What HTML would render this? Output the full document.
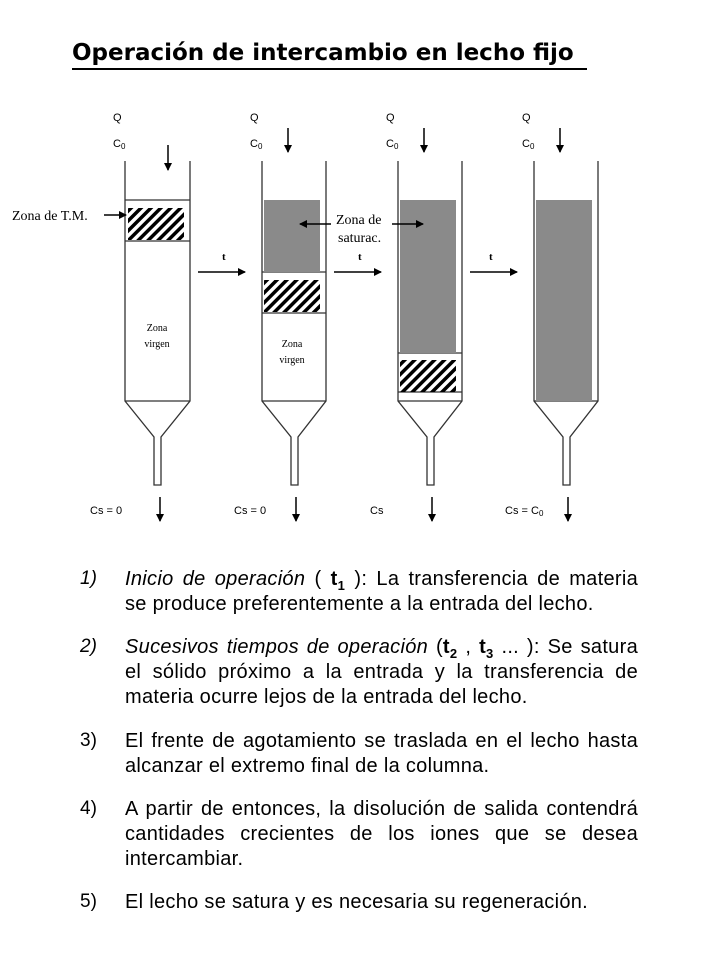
<!DOCTYPE html>
<html><head><meta charset="utf-8"><style>
body{margin:0;width:720px;height:960px;background:#fff;position:relative;overflow:hidden;font-family:"Liberation Sans",sans-serif}
.t{position:absolute;left:72px;top:38px;font-family:"DejaVu Sans",sans-serif;font-size:23px;font-weight:bold;color:#000;border-bottom:2px solid #000;line-height:30px;width:515px;white-space:nowrap}
.n{position:absolute;left:80px;font-size:19px}
.l{position:absolute;left:125px;width:513px;font-size:20px;letter-spacing:0.3px;line-height:22px;white-space:nowrap;text-align:justify;text-align-last:justify}
.l.e{text-align-last:left}
</style></head><body>
<div class="t">Operación de intercambio en lecho fijo</div>
<svg width="720" height="540" style="position:absolute;left:0;top:0" font-family="Liberation Sans, sans-serif">
<defs>
<pattern id="h" width="7" height="7" patternUnits="userSpaceOnUse" patternTransform="rotate(45)"><rect width="3.5" height="7" fill="#000"/></pattern>
<marker id="a" markerWidth="8" markerHeight="8" refX="7" refY="4" orient="auto" markerUnits="userSpaceOnUse"><path d="M0,0 L8,4 L0,8z" fill="#000"/></marker>
</defs>
<g stroke="#333" stroke-width="1.3" fill="none">
<path d="M125,161 V401 L154,437 V485 H161 V437 L190,401 V161 M125,401 H190"/>
<path d="M262,161 V401 L291,437 V485 H298 V437 L326,401 V161 M262,401 H326"/>
<path d="M398,161 V401 L427,437 V485 H434 V437 L462,401 V161 M398,401 H462"/>
<path d="M534,161 V401 L563,437 V485 H570 V437 L598,401 V161 M534,401 H598"/>
<path d="M125,200 H190 M125,241 H190 M262,272 H326 M262,313 H326 M398,353 H462 M398,392 H462"/>
</g>
<rect x="128" y="208" width="56" height="32" fill="url(#h)"/>
<rect x="264" y="200" width="56" height="72" fill="#8a8a8a"/>
<rect x="264" y="280" width="56" height="32" fill="url(#h)"/>
<rect x="400" y="200" width="56" height="153" fill="#8a8a8a"/>
<rect x="400" y="360" width="56" height="32" fill="url(#h)"/>
<rect x="536" y="200" width="56" height="201" fill="#8a8a8a"/>
<g stroke="#000" stroke-width="1.5" marker-end="url(#a)">
<line x1="168" y1="145" x2="168" y2="170"/><line x1="288" y1="128" x2="288" y2="152"/><line x1="424" y1="128" x2="424" y2="152"/><line x1="560" y1="128" x2="560" y2="152"/>
<line x1="160" y1="497" x2="160" y2="521"/><line x1="296" y1="497" x2="296" y2="521"/><line x1="432" y1="497" x2="432" y2="521"/><line x1="568" y1="497" x2="568" y2="521"/>
<line x1="198" y1="272" x2="245" y2="272"/><line x1="334" y1="272" x2="381" y2="272"/><line x1="470" y1="272" x2="517" y2="272"/>
<line x1="104" y1="215" x2="126" y2="215"/><line x1="331" y1="224" x2="300" y2="224"/><line x1="392" y1="224" x2="423" y2="224"/>
</g>
<g font-size="11" fill="#000">
<text x="113" y="121">Q</text><text x="250" y="121">Q</text><text x="386" y="121">Q</text><text x="522" y="121">Q</text>
<text x="113" y="147">C<tspan font-size="8" dy="2">0</tspan></text><text x="250" y="147">C<tspan font-size="8" dy="2">0</tspan></text><text x="386" y="147">C<tspan font-size="8" dy="2">0</tspan></text><text x="522" y="147">C<tspan font-size="8" dy="2">0</tspan></text>
<text x="90" y="514">Cs = 0</text><text x="234" y="514">Cs = 0</text><text x="370" y="514">Cs</text><text x="505" y="514">Cs = C<tspan font-size="8" dy="2">0</tspan></text>
</g>
<g font-family="Liberation Serif, serif" fill="#000">
<text x="12" y="220" font-size="14">Zona de T.M.</text>
<text x="336" y="224" font-size="14">Zona de</text><text x="338" y="242" font-size="14">saturac.</text>
<text x="222" y="260" font-size="11" font-weight="bold">t</text><text x="358" y="260" font-size="11" font-weight="bold">t</text><text x="489" y="260" font-size="11" font-weight="bold">t</text>
<text x="157" y="331" font-size="10" text-anchor="middle">Zona</text><text x="157" y="347" font-size="10" text-anchor="middle">virgen</text>
<text x="292" y="347" font-size="10" text-anchor="middle">Zona</text><text x="292" y="363" font-size="10" text-anchor="middle">virgen</text>
</g>
</svg>
<div class="n" style="top:568px;font-style:italic">1)</div>
<div class="l" style="top:568px"><i>Inicio de operación</i> ( <b>t<sub style="font-size:13px">1</sub></b> ): La transferencia de materia</div>
<div class="l e" style="top:593px">se produce preferentemente a la entrada del lecho.</div>
<div class="n" style="top:636px;font-style:italic">2)</div>
<div class="l" style="top:636px"><i>Sucesivos tiempos de operación</i> (<b>t<sub style="font-size:13px">2</sub></b> , <b>t<sub style="font-size:13px">3</sub></b> ... ): Se satura</div>
<div class="l" style="top:661px">el sólido próximo a la entrada y la transferencia de</div>
<div class="l e" style="top:686px">materia ocurre lejos de la entrada del lecho.</div>
<div class="n" style="top:730px">3)</div>
<div class="l" style="top:730px">El frente de agotamiento se traslada en el lecho hasta</div>
<div class="l e" style="top:755px">alcanzar el extremo final de la columna.</div>
<div class="n" style="top:798px">4)</div>
<div class="l" style="top:798px">A partir de entonces, la disolución de salida contendrá</div>
<div class="l" style="top:823px">cantidades crecientes de los iones que se desea</div>
<div class="l e" style="top:848px">intercambiar.</div>
<div class="n" style="top:891px">5)</div>
<div class="l e" style="top:891px">El lecho se satura y es necesaria su regeneración.</div>
</body></html>
